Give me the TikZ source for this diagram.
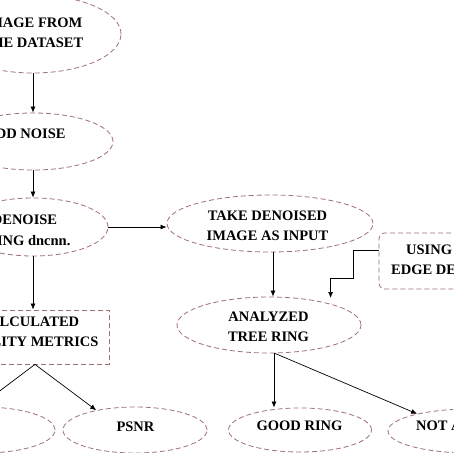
\documentclass[tikz,border=0pt]{standalone}
\usepackage{fontspec}
\setmainfont{Liberation Serif}
\usetikzlibrary{shapes.geometric,arrows.meta}
\definecolor{dashc}{RGB}{160,112,112}
\tikzset{
  txt/.style={font=\fontsize{14.5}{20.5}\selectfont\bfseries, align=center, text=black, inner sep=0pt},
  ell/.style={ellipse, draw=dashc, line width=0.8pt, dash pattern=on 5pt off 3pt, inner sep=0pt},
  box/.style={rectangle, draw=dashc, line width=0.8pt, dash pattern=on 5pt off 3pt, inner sep=0pt},
  rbox/.style={rectangle, rounded corners=6pt, draw=dashc, line width=0.8pt, dash pattern=on 5pt off 3pt, inner sep=0pt},
  arr/.style={draw=black, line width=0.7pt, -{Latex[length=6pt,width=5pt]}}
}
\begin{document}
\begin{tikzpicture}[x=1pt,y=-1pt]
\useasboundingbox (0,0) rectangle (453,453);
\clip (0,0) rectangle (453,453);
\fill[white] (0,0) rectangle (453,453);

% shapes
\node[ell, minimum width=176pt, minimum height=78pt] (n1) at (33,34) {};
\node[ell, minimum width=160pt, minimum height=57pt] (n2) at (33,141.5) {};
\node[ell, minimum width=150pt, minimum height=58pt] (n3) at (33,227) {};
\node[box, minimum width=148pt, minimum height=54pt] (n4) at (35,337) {};
\node[ell, minimum width=144pt, minimum height=46pt] (left) at (-17,430) {};
\node[ell, minimum width=144pt, minimum height=46pt] (psnr) at (135,430) {};
\node[ell, minimum width=206pt, minimum height=57pt] (n5) at (270,223.5) {};
\node[ell, minimum width=184pt, minimum height=56pt] (n6) at (269,325) {};
\node[rbox, minimum width=142pt, minimum height=56pt] (n7) at (450,261) {};
\node[ell, minimum width=143pt, minimum height=44pt] (good) at (300,430) {};
\node[ell, minimum width=164pt, minimum height=44pt] (notg) at (470,431) {};

% texts
\node[txt] (n1t) at (33,33) {IMAGE FROM\\THE DATASET};
\node[txt] (n2t) at (25.5,134) {ADD NOISE};
\node[txt] (n3t) at (24.5,230.5) {DENOISE\\USING dncnn.};
\node[txt] (n4t) at (29,333) {CALCULATED\\QUALITY METRICS};
\node[txt] (psnrt) at (135.5,427) {PSNR};
\node[txt] (n5t) at (267.5,226) {TAKE DENOISED\\IMAGE AS INPUT};
\node[txt] (n6t) at (268.5,327) {ANALYZED\\TREE RING};
\node[txt, anchor=west] (n7a) at (406,250) {USING};
\node[txt, anchor=west] (n7b) at (391,270) {EDGE DETECTION};
\node[txt] (goodt) at (299.5,426) {GOOD RING};
\node[txt, anchor=west] (notgt) at (416,426) {NOT A};

% connectors
\draw[arr] (n1.south) -- (n2.north);
\draw[arr] (n2.south) -- (n3.north);
\draw[arr] (n3.south) -- (n3.south |- n4.north);
\draw[arr] (n3.east) -- (n3.east -| n5.west);
\draw[arr] ([xshift=3pt]n5.south) -- ([xshift=3pt]n5.south |- n6.north);
\draw[arr] (n4.south) -- (left.100);
\draw[arr] (n4.south) -- (psnr.153);
\draw[arr] ([xshift=5pt]n6.south) -- ([xshift=5pt]n6.south |- good.north);
\draw[arr] ([xshift=6pt]n6.south) -- (notg.162);
\draw[arr] ([yshift=11pt]n7.west) -- ++(-25,0) -- ++(0,28) -- ++(-23,0) -- ++(0,20);
\end{tikzpicture}
\end{document}
